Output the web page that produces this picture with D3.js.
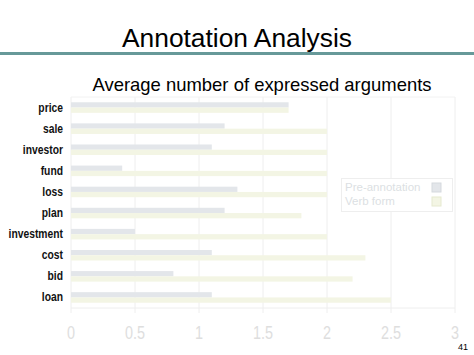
<!DOCTYPE html>
<html><head><meta charset="utf-8">
<script src="https://cdn.jsdelivr.net/npm/d3@7"></script>
<style>body{margin:0;background:#fff}svg{display:block}</style>
</head><body>
<svg id="c" width="474" height="355"></svg>
<script>
const categories = ["price","sale","investor","fund","loss","plan","investment","cost","bid","loan"];
const preAnnotation = [1.7,1.2,1.1,0.4,1.3,1.2,0.5,1.1,0.8,1.1];
const verbForm = [1.7,2.0,2.0,2.0,2.0,1.8,2.0,2.3,2.2,2.5];
const seriesNames = ["Pre-annotation","Verb form"];
const seriesColors = ["#e3e6ea","#f3f5e4"];
const ticks = [0,0.5,1,1.5,2,2.5,3];

const svg = d3.select("#c");
const m = {l:71, r:455, t:97, b:308};

// Title
svg.append("text").attr("x",237).attr("y",47).attr("text-anchor","middle")
  .attr("font-family","Liberation Sans, Arial, sans-serif").attr("font-size",26)
  .attr("textLength",230).attr("lengthAdjust","spacingAndGlyphs")
  .attr("fill","#000").text("Annotation Analysis");
svg.append("rect").attr("x",0).attr("y",52).attr("width",474).attr("height",3).attr("fill","#679999");
svg.append("text").attr("x",262).attr("y",91).attr("text-anchor","middle")
  .attr("font-family","Liberation Sans, Arial, sans-serif").attr("font-size",19)
  .attr("textLength",339).attr("lengthAdjust","spacingAndGlyphs")
  .attr("fill","#000").text("Average number of expressed arguments");

const x = d3.scaleLinear().domain([0,3]).range([m.l,m.r]);
const y = d3.scaleBand().domain(categories).range([m.t,m.b]).paddingInner(0.5).paddingOuter(0.25);
const ys = d3.scaleBand().domain(seriesNames).range([0,y.bandwidth()]);

// gridlines
svg.append("g").selectAll("line").data(ticks).join("line")
  .attr("x1",d=>x(d)).attr("x2",d=>x(d)).attr("y1",m.t).attr("y2",m.b+5)
  .attr("stroke","#eeeeee").attr("stroke-width",1);
svg.append("line").attr("x1",m.l).attr("x2",m.r).attr("y1",m.t).attr("y2",m.t).attr("stroke","#f2f2f2");
svg.append("line").attr("x1",m.l).attr("x2",m.r).attr("y1",m.b).attr("y2",m.b).attr("stroke","#eeeeee");

// bars
const data = categories.map((c,i)=>({c, v:[preAnnotation[i], verbForm[i]]}));
const g = svg.append("g").selectAll("g").data(data).join("g").attr("transform",d=>`translate(0,${y(d.c)})`);
g.selectAll("rect").data(d=>d.v.map((v,j)=>({v,s:seriesNames[j],j}))).join("rect")
  .attr("x",x(0)).attr("y",d=>ys(d.s)).attr("height",ys.bandwidth())
  .attr("width",d=>x(d.v)-x(0)).attr("fill",d=>seriesColors[d.j]);

// category labels
svg.append("g").selectAll("text").data(categories).join("text")
  .attr("x",63).attr("y",d=>y(d)+y.bandwidth()/2+4)
  .attr("text-anchor","end").attr("font-family","Liberation Sans, Arial, sans-serif")
  .attr("font-weight","bold").attr("font-size",12).attr("fill","#111")
  .attr("transform-origin","63px 0").style("transform","scaleX(0.86)")
  .text(d=>d);

// x tick labels
svg.append("g").selectAll("text").data(ticks).join("text")
  .attr("x",d=>x(d)).attr("y",339).attr("text-anchor","middle")
  .attr("font-family","Liberation Sans, Arial, sans-serif").attr("font-size",18)
  .attr("fill","#dedede").text(d=>d)
  .each(function(d){ d3.select(this).attr("transform",`translate(${x(d)},0) scale(0.8,1) translate(${-x(d)},0)`); });

// legend
const lg = svg.append("g");
lg.append("rect").attr("x",341.5).attr("y",178.5).attr("width",111).attr("height",33)
  .attr("fill","#fff").attr("stroke","#eeeeee");
seriesNames.forEach((s,i)=>{
  lg.append("text").attr("x",345).attr("y",191+i*14).attr("font-family","Liberation Sans, Arial, sans-serif")
    .attr("font-size",11.5).attr("fill","#dcdfe3").text(s);
  lg.append("rect").attr("x",432).attr("y",183+i*14).attr("width",9).attr("height",9)
    .attr("fill",seriesColors[i]).attr("stroke", i? "#e6e9d0":"#d5d9de");
});

svg.append("text").attr("x",468).attr("y",350).attr("text-anchor","end")
  .attr("font-family","Liberation Sans, Arial, sans-serif").attr("font-size",9).attr("fill","#000").text("41");
</script>
</body></html>
